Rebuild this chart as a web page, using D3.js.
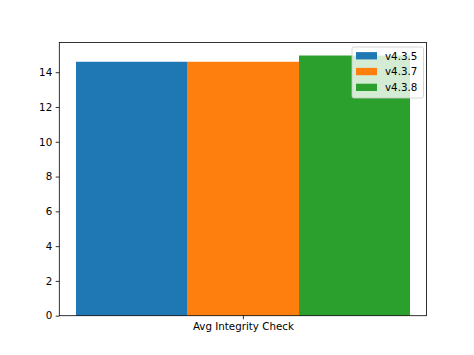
<!DOCTYPE html>
<html>
<head>
<meta charset="utf-8">
<script src="https://cdn.jsdelivr.net/npm/d3@7"></script>
<style>
  body { margin: 0; background: #fff; }
  svg { display: block; font-family: "DejaVu Sans", sans-serif; }
</style>
</head>
<body>
<div id="chart"></div>
<script>
const categories = ["Avg Integrity Check"];
const versions = ["v4.3.5", "v4.3.7", "v4.3.8"];
const values = [14.6, 14.6, 14.96];
const colors = ["#1f77b4", "#ff7f0e", "#2ca02c"];
const yTicks = [0, 2, 4, 6, 8, 10, 12, 14];

const W = 474, H = 355;
const margin = { top: 42.5, right: 47.5, bottom: 39.3, left: 59.3 };
const width = W - margin.left - margin.right;
const height = H - margin.top - margin.bottom;

const svg = d3.select("#chart").append("svg")
    .attr("width", W)
    .attr("height", H);

const g = svg.append("g")
    .attr("transform", `translate(${margin.left},${margin.top})`);

// bars are centred on category 0, each 0.3 wide, mpl-style 5% padding
const barW = 0.3;
const x = d3.scaleLinear()
    .domain([-0.3 - 0.15 - 0.045, 0.3 + 0.15 + 0.045])
    .range([0, width]);

const y = d3.scaleLinear()
    .domain([0, d3.max(values) * 1.05])
    .range([height, 0]);

// snap bar edges to whole pixels so neighbours meet without a seam
const edge = v => Math.round(margin.left + x(v)) - margin.left;

g.selectAll("rect.bar")
    .data(values)
    .join("rect")
    .attr("class", "bar")
    .attr("x", (d, i) => edge((i - 1) * barW - barW / 2))
    .attr("width", (d, i) => edge((i - 1) * barW + barW / 2) - edge((i - 1) * barW - barW / 2))
    .attr("y", d => y(d))
    .attr("height", d => y(0) - y(d))
    .attr("fill", (d, i) => colors[i]);

// y axis
const yAxis = g.append("g")
    .call(d3.axisLeft(y).tickValues(yTicks).tickSize(3.6).tickPadding(3.5))
    .call(a => a.select(".domain").remove());
yAxis.selectAll("text").style("font-size", "10.3px").attr("fill", "#000").style("font-family", "DejaVu Sans");
yAxis.selectAll("line").attr("stroke", "#000").attr("stroke-width", 0.8);

// x axis
const xAxis = g.append("g")
    .attr("transform", `translate(0,${height})`)
    .call(d3.axisBottom(x).tickValues([0]).tickFormat((d, i) => categories[i]).tickSize(3.6).tickPadding(3.5))
    .call(a => a.select(".domain").remove());
xAxis.selectAll("text").style("font-size", "10.3px").attr("fill", "#000").style("font-family", "DejaVu Sans");
xAxis.selectAll("line").attr("stroke", "#000").attr("stroke-width", 0.8);

// frame
g.append("rect")
    .attr("width", width)
    .attr("height", height)
    .attr("fill", "none")
    .attr("stroke", "#000")
    .attr("stroke-width", 0.8);

// legend
const legend = g.append("g")
    .attr("transform", `translate(${width - 74.5},${4.5})`);

legend.append("rect")
    .attr("width", 71.5)
    .attr("height", 51)
    .attr("rx", 2)
    .attr("fill", "#fff")
    .attr("fill-opacity", 0.8)
    .attr("stroke", "#ccc")
    .attr("stroke-width", 0.8);

const items = legend.selectAll("g.item")
    .data(versions)
    .join("g")
    .attr("class", "item")
    .attr("transform", (d, i) => `translate(4,${8.7 + i * 15.8})`);

items.append("rect")
    .attr("width", 21)
    .attr("height", 7.3)
    .attr("y", -3.6)
    .attr("fill", (d, i) => colors[i]);

items.append("text")
    .attr("x", 29)
    .attr("y", 3.8)
    .style("font-size", "10.3px")
    .attr("fill", "#000")
    .text(d => d);
</script>
</body>
</html>
